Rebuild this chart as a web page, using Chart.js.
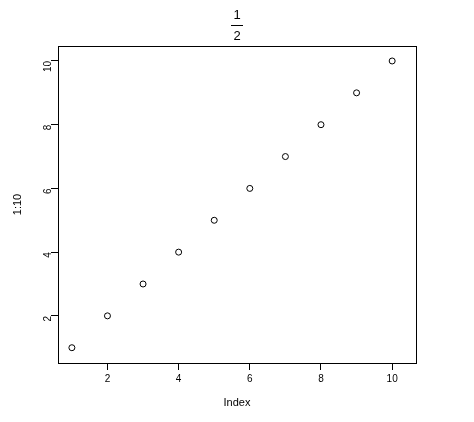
<!DOCTYPE html><html><head><script src="https://cdn.jsdelivr.net/npm/chart.js@4"></script>
<style>body{margin:0;background:#fff}#w{width:474px;height:422px}</style></head><body><div id="w"><canvas id="c"></canvas></div>
<script>
const xValues=[1,2,3,4,5,6,7,8,9,10];
const yValues=[1,2,3,4,5,6,7,8,9,10];
const tickValues=[2,4,6,8,10];
const F='"Liberation Sans", Arial, sans-serif';
const deco={id:'deco',afterDraw(ch){const c=ch.ctx,a=ch.chartArea;c.save();c.strokeStyle='#000';c.lineWidth=1;
c.strokeRect(Math.round(a.left)+0.5,Math.round(a.top)+0.5,Math.round(a.right-a.left),Math.round(a.bottom-a.top));
c.fillStyle='#000';c.textAlign='center';c.textBaseline='middle';c.font='13px '+F;
const cx=(a.left+a.right)/2;c.fillText('1',cx,15);c.fillText('2',cx,36);c.beginPath();c.moveTo(cx-6,25.5);c.lineTo(cx+6,25.5);c.stroke();
c.font='11px '+F;c.fillText('Index',cx,403);c.translate(18,(a.top+a.bottom)/2);c.rotate(-Math.PI/2);c.fillText('1:10',0,0);c.restore();}};
new Chart(document.getElementById('c'),{type:'scatter',data:{datasets:[{data:xValues.map((x,i)=>({x,y:yValues[i]})),pointStyle:'circle',pointRadius:3,borderColor:'#000',borderWidth:1,backgroundColor:'rgba(0,0,0,0)'}]},
options:{responsive:true,maintainAspectRatio:false,animation:false,layout:{padding:{top:46,right:58,left:0,bottom:0}},plugins:{legend:{display:false},tooltip:{enabled:false}},
scales:{x:{min:0.61,max:10.67,afterBuildTicks(s){s.ticks=tickValues.map(v=>({value:v}))},afterFit(s){s.height=59},border:{display:false},grid:{drawOnChartArea:false,tickLength:7,color:'#000'},ticks:{color:'#000',font:{size:10,family:F},padding:3,maxRotation:0}},
y:{min:0.52,max:10.47,afterBuildTicks(s){s.ticks=tickValues.map(v=>({value:v}))},afterFit(s){s.width=58},border:{display:false},grid:{drawOnChartArea:false,tickLength:7,color:'#000'},ticks:{color:'#000',font:{size:10,family:F},padding:3,minRotation:90,maxRotation:90}}}},plugins:[deco]});
</script></body></html>
